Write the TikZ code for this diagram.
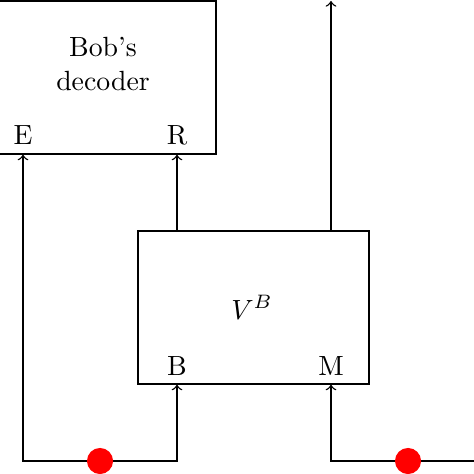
\documentclass[tikz,border=0pt]{standalone}
\usetikzlibrary{fit}
\begin{document}
\begin{tikzpicture}[x=0.36pt,y=-0.36pt, line width=0.5pt,
  box/.style={draw, rectangle, inner sep=0pt},
  port/.style={inner sep=0pt, anchor=base},
  reddot/.style={circle, fill=red, draw=none, inner sep=0pt, minimum size=9.4pt}]
\useasboundingbox (0,0) rectangle (474,474);
\clip (0,0) rectangle (474,474);
% Bob's decoder box
\coordinate (d1) at (-30,1);
\coordinate (d2) at (216,154);
\node[box, fit=(d1)(d2)] (dec) {};
\node[align=center, inner sep=0pt] (dectext) at (103,64) {Bob's\\decoder};
\node[port] (E) at (23,145) {E};
\node[port] (R) at (177,145) {R};
% V^B box
\coordinate (v1) at (138,231);
\coordinate (v2) at (369,384);
\node[box, fit=(v1)(v2)] (V) {};
\node[port] (VB) at (252,319) {$V^B$};
\node[port] (B) at (177,375) {B};
\node[port] (M) at (331,375) {M};
% wire corners
\coordinate (c1) at (23,461);
\coordinate (c2) at (177,461);
\coordinate (c3) at (331,461);
\coordinate (c4) at (490,461);
\coordinate (top) at (331,1);
% connectors
\draw[<->] (c1 |- dec.south) -- (c1) -- (c2) -- (c2 |- V.south);
\draw[->] (c2 |- V.north) -- (c2 |- dec.south);
\draw[->] (c3 |- V.north) -- (top);
\draw[->] (c4) -- (c3) -- (c3 |- V.south);
% red dots
\node[reddot] (p1) at (100,461) {};
\node[reddot] (p2) at (408,461) {};
\end{tikzpicture}
\end{document}
